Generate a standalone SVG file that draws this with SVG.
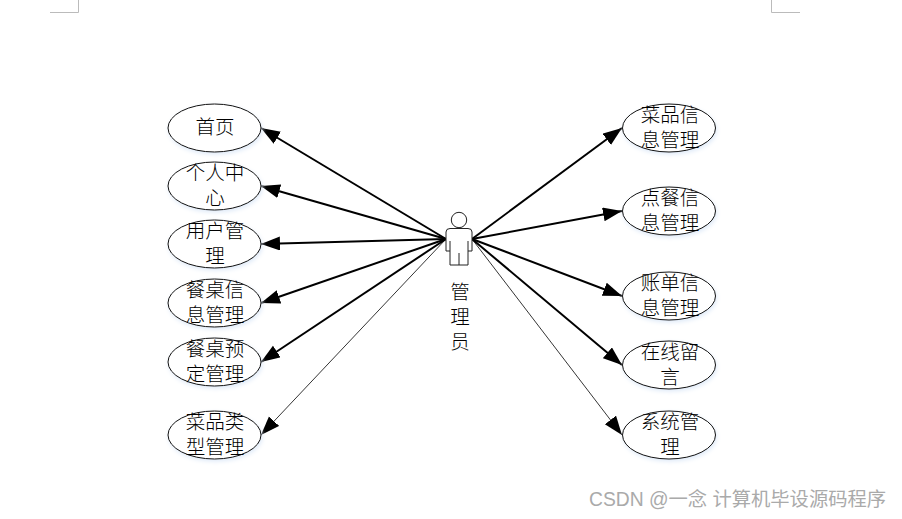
<svg xmlns="http://www.w3.org/2000/svg" width="902" height="519" viewBox="0 0 902 519">
<style>
text{font-family:"Liberation Serif","Noto Sans CJK SC",serif;font-size:19.500px;font-weight:300;fill:#000;text-anchor:middle}
ellipse{fill:#fff;stroke:#111;stroke-width:1;filter:drop-shadow(1px 2px 2px #dfeaf8)}
.a{stroke:#000;stroke-width:2;fill:none;marker-end:url(#h)}
.t{stroke:#000;stroke-width:.8;fill:none;marker-end:url(#h2)}
.c{stroke:#bbb;stroke-width:1;fill:none}
text.w{font-family:"Liberation Sans","Noto Sans CJK SC",sans-serif;font-size:19.300px;font-weight:400;fill:#aaa;text-anchor:start}
</style>
<defs>
<marker id="h" markerUnits="userSpaceOnUse" markerWidth="20" markerHeight="15" refX="19" refY="7" orient="auto"><path d="M0 0L19 7L0 14z" fill="#000"/></marker>
<marker id="h2" markerUnits="userSpaceOnUse" markerWidth="20" markerHeight="15" refX="19" refY="7" orient="auto"><path d="M0 0L19 7L0 14z" fill="#000"/></marker>
</defs>
<rect width="902" height="519" fill="#fff"/>
<path class="c" d="M50 12.500H78.500V0M800 12.500H771.500V0"/>
<g id="connectors">
<path class="a" d="M446 239L261 128"/>
<path class="a" d="M446 239L261 186"/>
<path class="a" d="M446 239L261 244"/>
<path class="a" d="M446 239L261 303"/>
<path class="a" d="M446 239L261 362"/>
<path class="t" d="M446 239L261 435"/>
<path class="a" d="M472 239L622 128"/>
<path class="a" d="M472 239L622 211"/>
<path class="a" d="M472 239L622 296"/>
<path class="a" d="M472 239L622 365"/>
<path class="t" d="M472 239L622 435"/>
</g>
<g id="actor">
<circle cx="459" cy="220" r="7.700" fill="#fff" stroke="#222" stroke-width="1"/>
<path d="M450 228.500H468Q472 228.500 472 232V251H468V265H450V251H446V232Q446 228.500 450 228.500ZM450 241V251M468 241V251M459 253V265" fill="#fff" stroke="#222" stroke-width="1"/>
<text x="460" y="299">管</text>
<text x="460" y="324">理</text>
<text x="460" y="349">员</text>
</g>
<g id="n1"><ellipse cx="214.500" cy="128" rx="46.500" ry="24"/><text x="215" y="134">首页</text></g>
<g id="n2"><ellipse cx="214.500" cy="186" rx="46.500" ry="24"/><text x="215" y="180">个人中</text><text x="215" y="205">心</text></g>
<g id="n3"><ellipse cx="214.500" cy="244" rx="46.500" ry="24"/><text x="215" y="238">用户管</text><text x="215" y="263">理</text></g>
<g id="n4"><ellipse cx="214.500" cy="303" rx="46.500" ry="24"/><text x="215" y="297">餐桌信</text><text x="215" y="322">息管理</text></g>
<g id="n5"><ellipse cx="214.500" cy="362" rx="46.500" ry="24"/><text x="215" y="356">餐桌预</text><text x="215" y="381">定管理</text></g>
<g id="n6"><ellipse cx="214.500" cy="435" rx="46.500" ry="24"/><text x="215" y="429">菜品类</text><text x="215" y="454">型管理</text></g>
<g id="n7"><ellipse cx="669" cy="128" rx="46.500" ry="24"/><text x="670" y="122">菜品信</text><text x="670" y="147">息管理</text></g>
<g id="n8"><ellipse cx="669" cy="211" rx="46.500" ry="24"/><text x="670" y="205">点餐信</text><text x="670" y="230">息管理</text></g>
<g id="n9"><ellipse cx="669" cy="296" rx="46.500" ry="24"/><text x="670" y="290">账单信</text><text x="670" y="315">息管理</text></g>
<g id="n10"><ellipse cx="669" cy="365" rx="46.500" ry="24"/><text x="670" y="359">在线留</text><text x="670" y="384">言</text></g>
<g id="n11"><ellipse cx="669" cy="435" rx="46.500" ry="24"/><text x="670" y="429">系统管</text><text x="670" y="454">理</text></g>
<text class="w" x="589" y="506">CSDN @一念 计算机毕设源码程序</text>
</svg>
